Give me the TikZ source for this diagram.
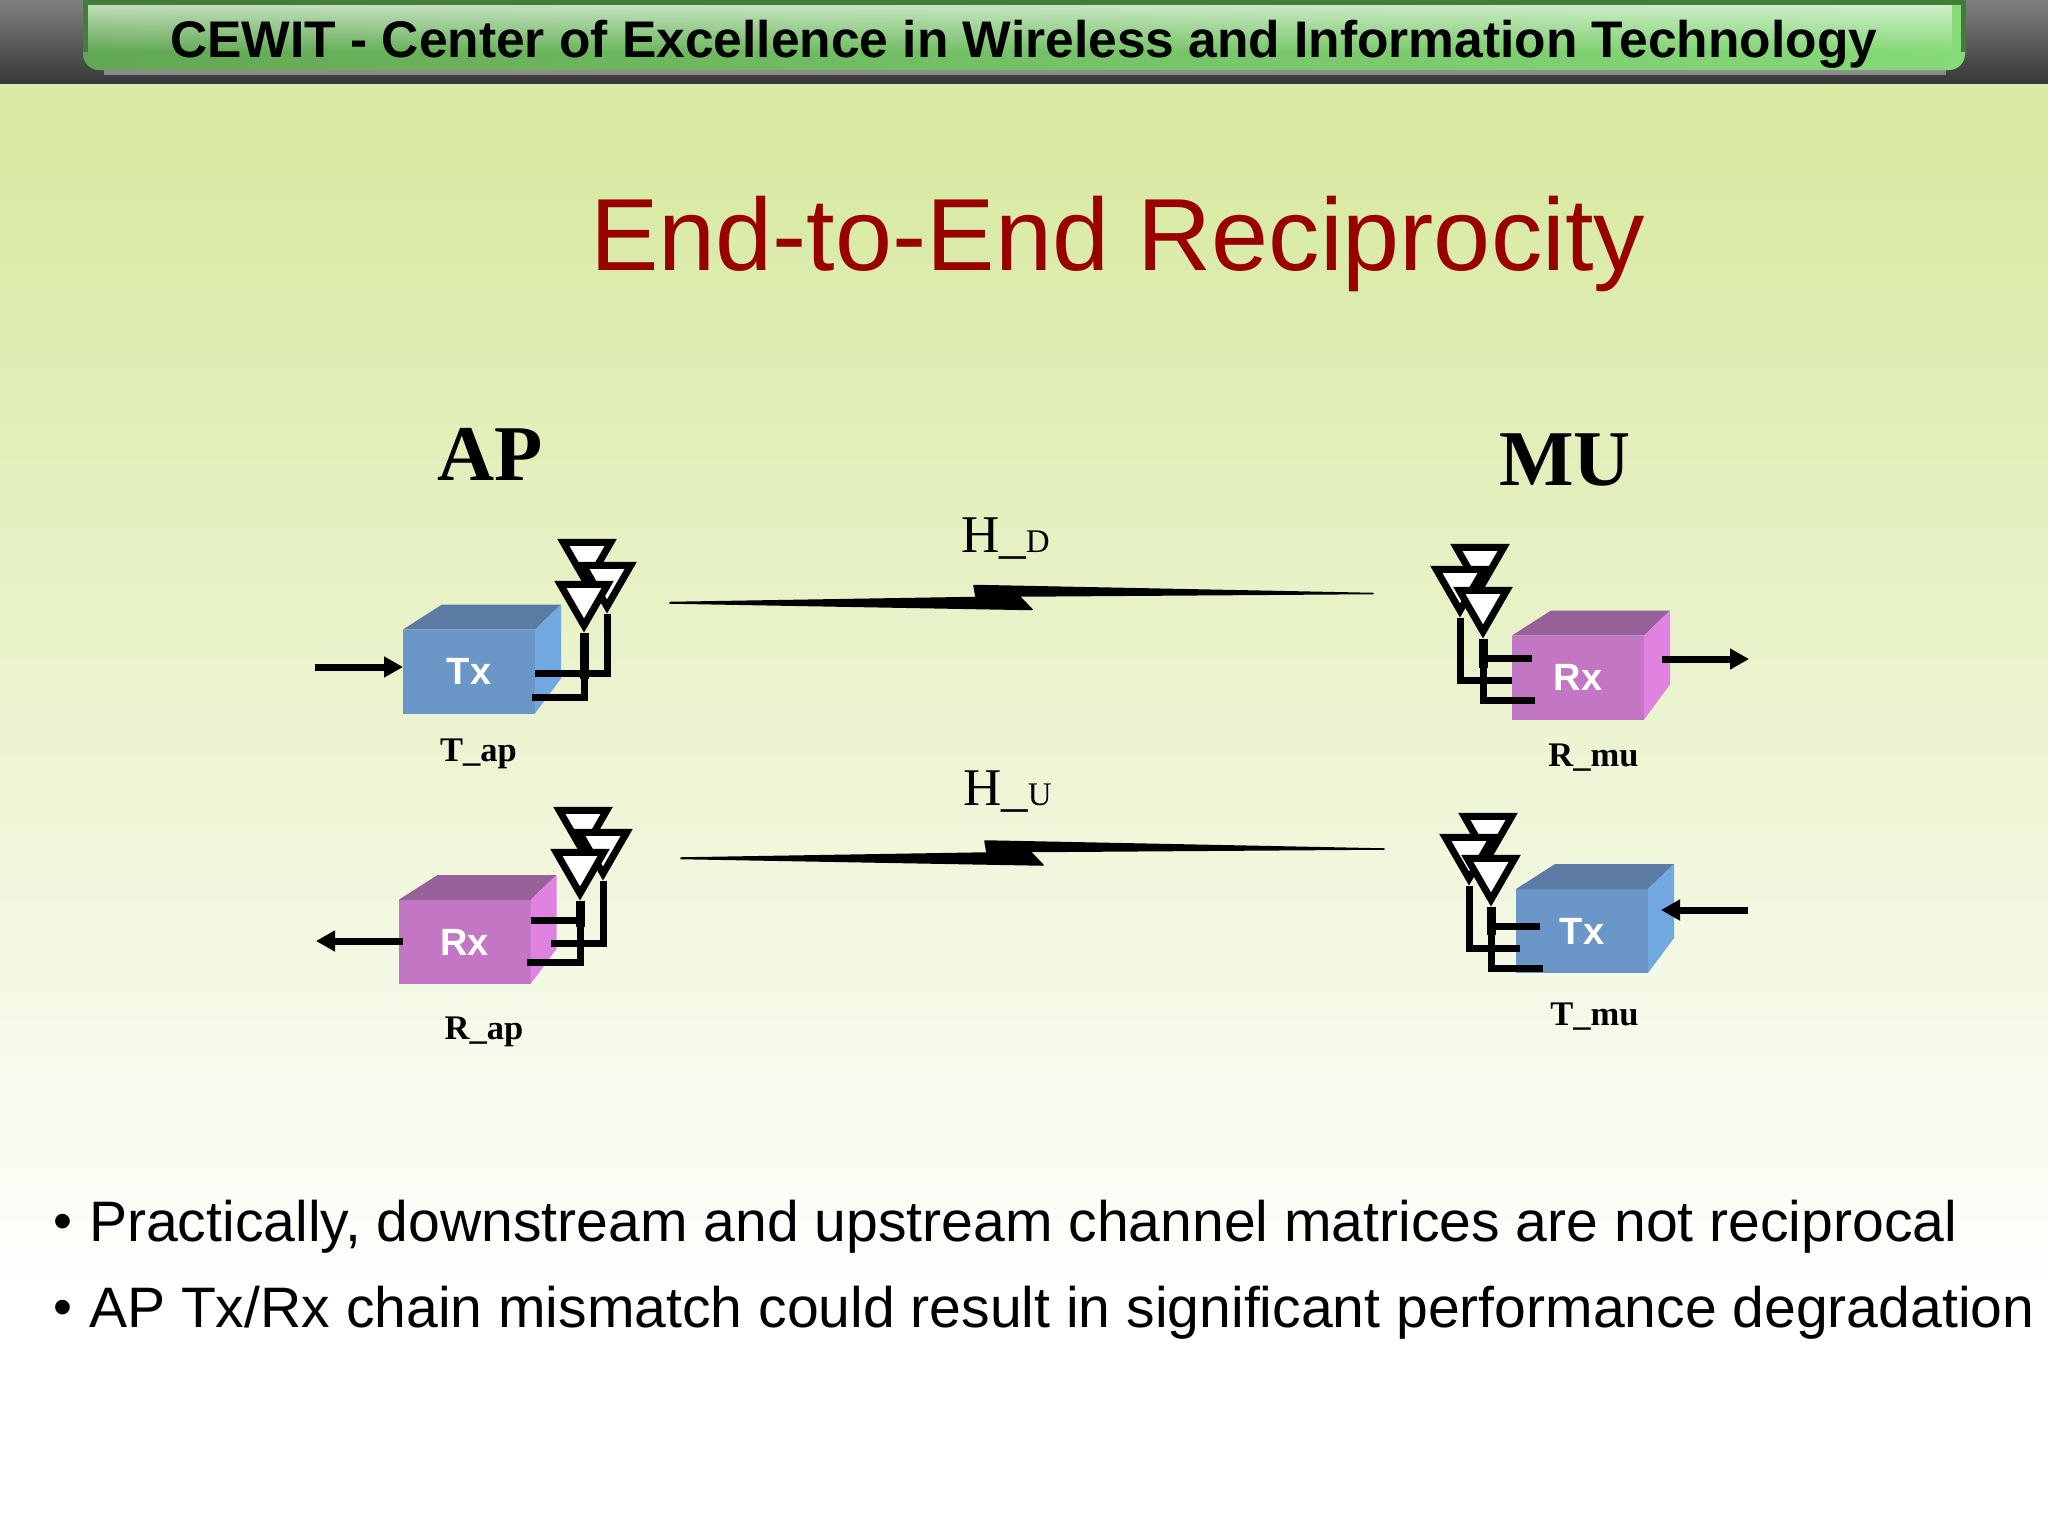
\documentclass[tikz,border=0pt]{standalone}
\usepackage{fontspec}
\setmainfont{Liberation Sans}
\newfontfamily\timesface{Liberation Serif}
\usetikzlibrary{arrows.meta,calc,fadings,shapes.geometric}

\definecolor{pagetint}{RGB}{217,234,165}
\definecolor{titlered}{RGB}{153,0,0}
\definecolor{txfront}{RGB}{106,150,200}
\definecolor{txtop}{RGB}{91,123,165}
\definecolor{txside}{RGB}{114,168,224}
\definecolor{rxfront}{RGB}{194,118,196}
\definecolor{rxtop}{RGB}{150,96,152}
\definecolor{rxside}{RGB}{224,131,224}
\definecolor{barleft}{RGB}{98,168,84}
\definecolor{barright}{RGB}{134,218,120}
\definecolor{baredge}{RGB}{66,126,56}

\tikzset{
	chainbox/.style={minimum width=132pt,minimum height=84pt,inner sep=0pt,outer sep=0pt,
		text=white,font=\fontsize{38}{38}\selectfont\bfseries},
	txbox/.style={chainbox,fill=txfront},
	rxbox/.style={chainbox,fill=rxfront},
	antenna/.style={regular polygon,regular polygon sides=3,shape border rotate=180,
		minimum size=55pt,inner sep=0pt,draw=black,fill=white,line width=7pt,miter limit=10},
	feed/.style={line width=7pt,line cap=butt,line join=miter},
	stem/.style={line width=9pt},
	signal/.style={line width=7pt,-{Triangle[length=19pt,width=20pt]}},
	boxlabel/.style={inner sep=0pt,font=\timesface\bfseries\fontsize{34.5}{35}\selectfont},
	sidelabel/.style={inner sep=0pt,anchor=base,font=\timesface\bfseries\fontsize{79}{79}\selectfont},
	channel/.style={inner sep=0pt,anchor=base west,font=\timesface\fontsize{53}{53}\selectfont},
	bullet/.style={inner sep=0pt,anchor=base west,font=\fontsize{57.1}{58}\selectfont},
}

% top and side faces of a box, behind its front node
\newcommand{\boxfaces}[3]{
	\fill[#2] (#1.north west) -- ++(39,-25) -- ++(119,0) -- (#1.north east) -- cycle;
	\fill[#3] (#1.north east) -- ++(26,-25) -- ++(0,74) -- (#1.south east) -- cycle;
}
\newcommand{\bolt}[2]{
	\filldraw[shift={(#1,#2)},line width=1.5pt,line join=round] (0,0) -- (306,-5) -- (304,-17) -- (703,-9)
		-- (349,-6.5) -- (362,7) -- (0,0.5) -- cycle;
}
\newcommand{\dotmark}{{\fontsize{54}{54}\selectfont\raisebox{2pt}{•}}\hspace{17pt}}

\begin{document}
\begin{tikzpicture}[x=1pt,y=-1pt]
	\useasboundingbox (0,0) rectangle (2048,1534);
	\fill[white] (0,0) rectangle (2048,1534);
	\fill[pagetint] (0,83) rectangle (2048,181);
	\shade[top color=pagetint,bottom color=white] (0,180) rectangle (2048,1300);

	% header
	\shade[top color=black!50,bottom color=black!78] (0,0) rectangle (2048,83);
	\fill[black!45] (104,68) rectangle (1946,75);
	\shade[left color=barleft,right color=barright,rounded corners=16pt] (83,-20) rectangle (1965,70);
	\fill[white,path fading=south,opacity=.6] (90,5) rectangle (1958,52);
	\draw[baredge,line width=5pt] (85,52) -- (85,2) -- (1963,2) -- (1963,52);
	\node[inner sep=0pt,anchor=base west,font=\fontsize{51.5}{52}\selectfont\bfseries] (header) at (170,57)
		{CEWIT - Center of Excellence in Wireless and Information Technology};

	\node[inner sep=0pt,anchor=base west,text=titlered,font=\fontsize{102.6}{104}\selectfont] (title) at (590,270)
		{End-to-End Reciprocity};

	\node[sidelabel] (ap) at (490.5,480) {AP};
	\node[sidelabel] (mu) at (1565,485) {MU};

	% AP Tx
	\node[txbox] (tap) at (469,671.5) {\raisebox{-1pt}{Tx}};
	\boxfaces{tap}{txtop}{txside}
	\node[antenna] (tapa) at (587,556) {};
	\node[antenna] (tapb) at (607,579) {};
	\node[antenna] (tapc) at (584,598) {};
	\coordinate (tapin) at (315,667);
	\draw[signal] (tapin) -- (tap.west |- tapin);
	\draw[stem] (tapc.corner 1) -- ++(0,46);
	\draw[feed] (tapc.corner 1) |- (532,697);
	\draw[feed] (tapb.corner 1) |- (535,673);
	\node[boxlabel] (taplabel) at (478.5,753.5) {T\_ap};

	% AP Rx
	\node[rxbox] (rap) at (464.5,942) {\raisebox{-1pt}{Rx}};
	\boxfaces{rap}{rxtop}{rxside}
	\node[antenna] (rapa) at (583,824) {};
	\node[antenna] (rapb) at (603,846) {};
	\node[antenna] (rapc) at (580,866) {};
	\coordinate (rapout) at (316,941);
	\draw[signal] (rap.west |- rapout) ++(4,0) -- (rapout);
	\draw[stem] (rapc.corner 1) -- ++(0,26);
	\draw[feed] (rapc.corner 1) |- (531,920);
	\draw[feed] (rapc.corner 1) |- (527,962);
	\draw[feed] (rapb.corner 1) |- (551,943);
	\node[boxlabel] (raplabel) at (484,1032) {R\_ap};

	% MU Rx
	\node[rxbox] (rmu) at (1578,677.5) {Rx};
	\boxfaces{rmu}{rxtop}{rxside}
	\node[antenna] (rmua) at (1480,561) {};
	\node[antenna] (rmub) at (1460,583) {};
	\node[antenna] (rmuc) at (1483,604) {};
	\coordinate (rmuout) at (1749,659);
	\draw[signal] (1662,659) -- (rmuout);
	\draw[stem] (rmuc.corner 1) -- ++(0,29);
	\draw[feed] (rmuc.corner 1) |- (1532,658);
	\draw[feed] (rmuc.corner 1) |- (1535,700);
	\draw[feed] (rmub.corner 1) |- (1512,680);
	\node[boxlabel] (rmulabel) at (1593.5,758) {R\_mu};

	% MU Tx
	\node[txbox] (tmu) at (1582,931) {\raisebox{-1pt}{Tx}};
	\boxfaces{tmu}{txtop}{txside}
	\node[antenna] (tmua) at (1488,830) {};
	\node[antenna] (tmub) at (1469,851) {};
	\node[antenna] (tmuc) at (1491,872) {};
	\coordinate (tmuin) at (1748,910);
	\draw[signal] (tmuin) -- (1661,910);
	\draw[stem] (tmuc.corner 1) -- ++(0,28);
	\draw[feed] (tmuc.corner 1) |- (1540,926);
	\draw[feed] (tmuc.corner 1) |- (1543,968);
	\draw[feed] (tmub.corner 1) |- (1520,948);
	\node[boxlabel] (tmulabel) at (1594.5,1016.5) {T\_mu};

	% channels
	\bolt{670}{602.5}
	\bolt{681}{858}
	\node[channel] (hd) at (961,552) {H\_{\fontsize{33}{35}\selectfont D}};
	\node[channel] (hu) at (963,805) {H\_{\fontsize{33}{35}\selectfont U}};

	\node[bullet] (first) at (53,1241) {\dotmark Practically, downstream and upstream channel matrices are not reciprocal};
	\node[bullet] (second) at (53,1327) {\dotmark AP Tx/Rx chain mismatch could result in significant performance degradation};
\end{tikzpicture}
\end{document}
